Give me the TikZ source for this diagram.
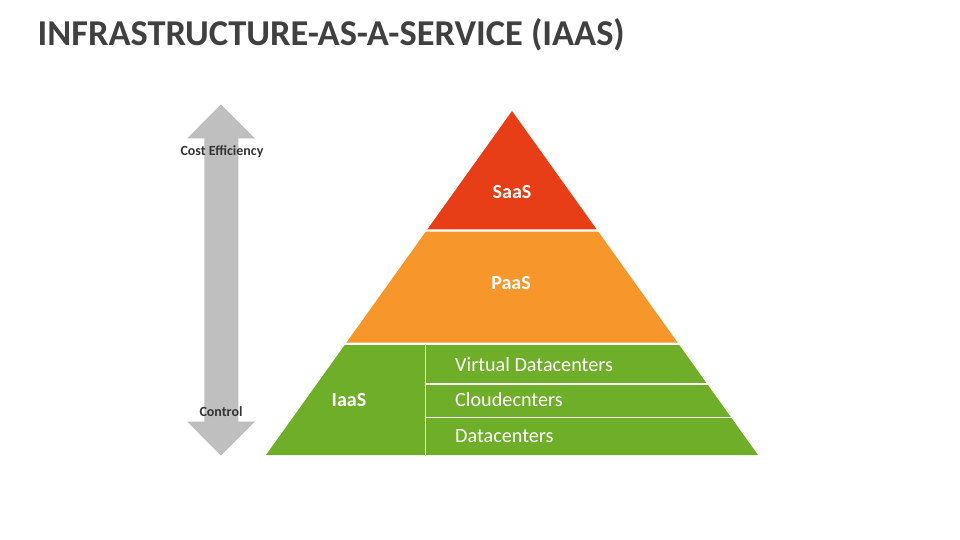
\documentclass[tikz,border=0pt]{standalone}
\usepackage{fontspec}
\setmainfont{Carlito}
\definecolor{saas}{HTML}{E83E17}
\definecolor{paas}{HTML}{F7962A}
\definecolor{iaas}{HTML}{6EAE28}
\definecolor{arrowgray}{HTML}{BFBFBF}
\definecolor{titlegray}{HTML}{404040}
\tikzset{
  layerlabel/.style={text=white, font=\fontsize{20}{22}\selectfont\bfseries, inner sep=0pt},
  rowlabel/.style={text=white, font=\fontsize{20.2}{22}\selectfont, anchor=west, inner sep=0pt},
  arrowlabel/.style={text=black!80, font=\fontsize{14}{15}\selectfont\bfseries, inner sep=0pt},
  sep/.style={draw=white, line width=1.5pt}
}
\begin{document}
\begin{tikzpicture}[x=1pt,y=-1pt]
\useasboundingbox (0,0) rectangle (960,540);
% title
\node[anchor=west, inner sep=0pt, text=titlegray, font=\fontsize{36.4}{40}\selectfont\bfseries] (title) at (37.5,35) {INFRASTRUCTURE-AS-A-SERVICE (IAAS)};
% arrow
\fill[arrowgray] (221,104.3) -- (255,138.3) -- (238.3,138.3) -- (238.3,421.7) -- (255,421.7) -- (221,455.7) -- (187.3,421.7) -- (204.3,421.7) -- (204.3,138.3) -- (187.3,138.3) -- cycle;
\node[arrowlabel] (cost) at (222,152) {Cost Efficiency};
\node[arrowlabel] (control) at (221,411.5) {Control};
% pyramid layers
\fill[saas] (512,111) -- (596.6,229.3) -- (427.4,229.3) -- cycle;
\fill[paas] (425.7,231.7) -- (598.3,231.7) -- (677.7,342.7) -- (346.3,342.7) -- cycle;
\fill[iaas] (344.7,345) -- (679.3,345) -- (758,455) -- (266,455) -- cycle;
% separators
\coordinate (vtop) at (425.7,345);
\coordinate (vbot) at (425.7,455);
\coordinate (h1l) at (425.7,384);
\coordinate (h1r) at (707.5,384);
\coordinate (h2l) at (425.7,417.7);
\coordinate (h2r) at (731.5,417.7);
\draw[sep] (vtop) -- (vbot);
\draw[sep] (h1l) -- (h1r);
\draw[sep] (h2l) -- (h2r);
% labels
\node[layerlabel] (saasl) at (512,192) {SaaS};
\node[layerlabel] (paasl) at (511,283) {PaaS};
\node[layerlabel] (iaasl) at (349,400) {IaaS};
\node[rowlabel] (r1) at (455,365) {Virtual Datacenters};
\node[rowlabel] (r2) at (455,400) {Cloudecnters};
\node[rowlabel] (r3) at (455,436) {Datacenters};
\end{tikzpicture}
\end{document}
